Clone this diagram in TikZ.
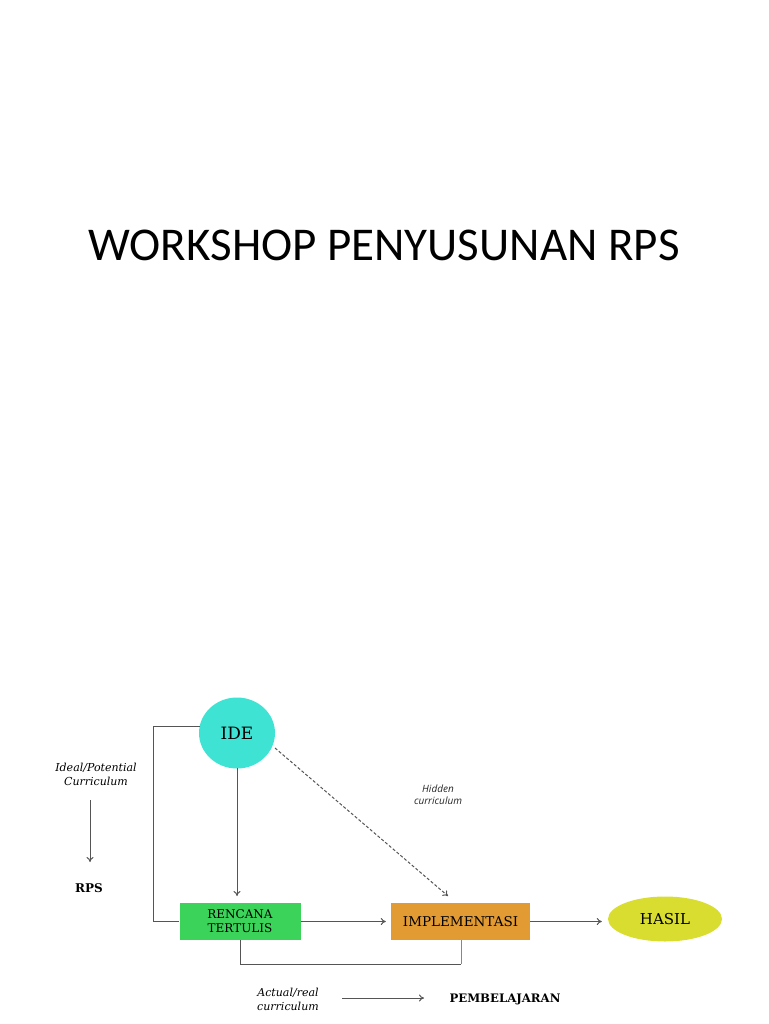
\documentclass[tikz,border=0pt]{standalone}
\usepackage{fontspec}
\setmainfont{DejaVu Serif}
\newfontfamily\titlefont{Carlito}
\newfontfamily\hidfont{Open Sans}
\usetikzlibrary{arrows.meta,shapes.geometric}
\definecolor{ideclr}{HTML}{3FE3D3}
\definecolor{rencclr}{HTML}{3CD35B}
\definecolor{implclr}{HTML}{E29A32}
\definecolor{hasclr}{HTML}{D9DD2F}
\definecolor{lineclr}{HTML}{555555}
\definecolor{blueln}{HTML}{5B8FD0}
\begin{document}
\begin{tikzpicture}[x=1pt,y=-1pt,
  conn/.style={draw=lineclr,line width=1pt},
  arr/.style={conn,-{To[length=5pt,width=7pt]}},
  lbl/.style={font=\fontsize{11}{14}\selectfont\itshape,align=center,text=black},
  boxa/.style={minimum width=121pt,minimum height=37pt,inner sep=0pt,align=center,font=\fontsize{12}{14}\selectfont},
]
\useasboundingbox (0,0) rectangle (768,1024);
\node[font=\titlefont\fontsize{47}{52}\selectfont] (title) at (384,245) {WORKSHOP PENYUSUNAN RPS};
\node[ellipse,fill=ideclr,minimum width=76pt,minimum height=71pt,inner sep=0pt,font=\fontsize{17}{18}\selectfont] (ide) at (237,733) {IDE};
\node[boxa,fill=rencclr] (renc) at (240,921.5) {RENCANA\\TERTULIS};
\node[boxa,fill=implclr,minimum width=139pt,font=\fontsize{13.5}{15}\selectfont] (impl) at (460.5,921.5) {IMPLEMENTASI};
\node[ellipse,fill=hasclr,minimum width=114pt,minimum height=45pt,inner sep=0pt,font=\fontsize{15}{16}\selectfont] (hasil) at (665,919) {HASIL};
\node[lbl] (ideal) at (96,774) {Ideal/Potential\\Curriculum};
\coordinate (a1) at (90,800);
\coordinate (a2) at (90,862);
\node[font=\fontsize{12}{14}\selectfont\bfseries] (rps) at (89,888) {RPS};
\node[font=\hidfont\fontsize{10}{12}\selectfont\itshape,align=center,text=black!85] (hid) at (438,795) {Hidden\\curriculum};
\node[lbl] (actual) at (288,999) {Actual/real\\curriculum};
\node[font=\fontsize{11.7}{14}\selectfont\bfseries] (pemb) at (505,999) {PEMBELAJARAN};
\coordinate (b1) at (342,998);
\coordinate (b2) at (424,998);
\coordinate (ideL) at (200,726);
\coordinate (ideB) at (237,768);
\coordinate (rencT) at (237,896);
% connectors
\draw[arr] (ideB) -- (rencT);
\draw[conn] (ideL) -- (153,726) |- (renc.west);
\draw[arr] (renc.east) -- ([xshift=-5pt]impl.west);
\draw[arr] (impl.east) -- ([xshift=-6pt]impl.east -| hasil.west);
\draw[arr,densely dashed] (275,748) -- (448,896);
\draw[conn] (renc.south) -- (240,964) -- (461,964);
\draw[draw=blueln,line width=1pt] (461,964) -- (impl.south -| 461,0);
\draw[arr] (a1) -- (a2);
\draw[arr] (b1) -- (b2);
\end{tikzpicture}
\end{document}
